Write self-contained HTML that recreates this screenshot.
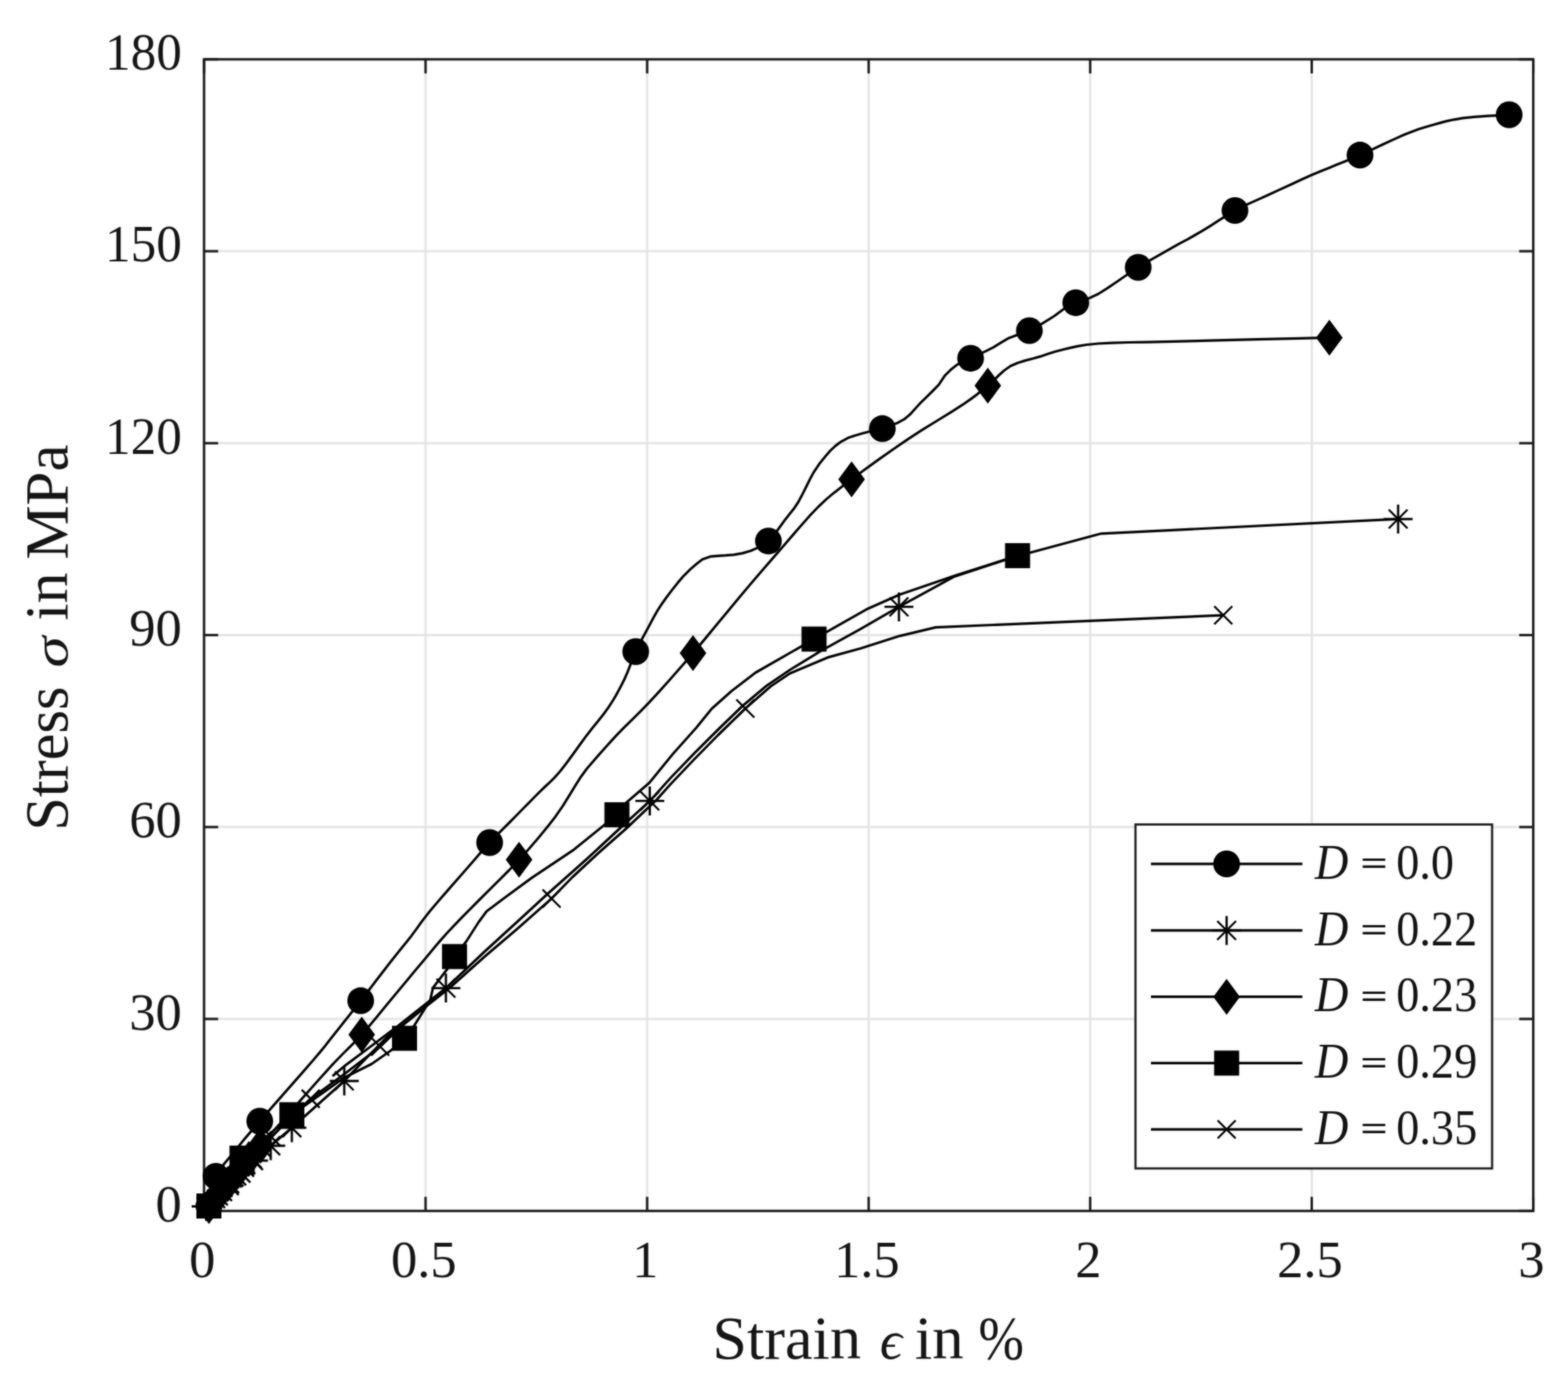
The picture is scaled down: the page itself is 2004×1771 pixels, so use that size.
<!DOCTYPE html>
<html lang="en">
<head>
<meta charset="utf-8">
<title>Stress-strain curves</title>
<style>
html,body{margin:0;padding:0;background:#fff;}
body{width:2004px;height:1771px;overflow:hidden;}
svg{display:block;}
</style>
</head>
<body>
<svg width="2004" height="1771" viewBox="0 0 2004 1771">
<defs><filter id="soft" color-interpolation-filters="sRGB" filterUnits="userSpaceOnUse" x="0" y="0" width="2004" height="1771"><feGaussianBlur in="SourceGraphic" stdDeviation="0.85" result="b"/><feComposite in="SourceGraphic" in2="b" operator="arithmetic" k1="0" k2="0.40" k3="0.60" k4="0"/></filter></defs>
<rect width="2004" height="1771" fill="#fff"/>
<g filter="url(#soft)">
<rect width="2004" height="1771" fill="#fff"/>
<g stroke="#e5e5e5" stroke-width="3.0" fill="none"><line x1="543.9" y1="75.8" x2="543.9" y2="1547.3"/><line x1="827.1" y1="75.8" x2="827.1" y2="1547.3"/><line x1="1110.2" y1="75.8" x2="1110.2" y2="1547.3"/><line x1="1393.3" y1="75.8" x2="1393.3" y2="1547.3"/><line x1="1676.5" y1="75.8" x2="1676.5" y2="1547.3"/><line x1="260.8" y1="1302.0" x2="1959.6" y2="1302.0"/><line x1="260.8" y1="1056.8" x2="1959.6" y2="1056.8"/><line x1="260.8" y1="811.5" x2="1959.6" y2="811.5"/><line x1="260.8" y1="566.3" x2="1959.6" y2="566.3"/><line x1="260.8" y1="321.0" x2="1959.6" y2="321.0"/></g>
<g stroke="#1a1a1a" stroke-width="3.10" fill="none"><line x1="260.8" y1="1547.3" x2="260.8" y2="1529.3"/><line x1="260.8" y1="75.8" x2="260.8" y2="93.8"/><line x1="260.8" y1="1547.3" x2="278.8" y2="1547.3"/><line x1="1959.6" y1="1547.3" x2="1941.6" y2="1547.3"/><line x1="543.9" y1="1547.3" x2="543.9" y2="1529.3"/><line x1="543.9" y1="75.8" x2="543.9" y2="93.8"/><line x1="260.8" y1="1302.0" x2="278.8" y2="1302.0"/><line x1="1959.6" y1="1302.0" x2="1941.6" y2="1302.0"/><line x1="827.1" y1="1547.3" x2="827.1" y2="1529.3"/><line x1="827.1" y1="75.8" x2="827.1" y2="93.8"/><line x1="260.8" y1="1056.8" x2="278.8" y2="1056.8"/><line x1="1959.6" y1="1056.8" x2="1941.6" y2="1056.8"/><line x1="1110.2" y1="1547.3" x2="1110.2" y2="1529.3"/><line x1="1110.2" y1="75.8" x2="1110.2" y2="93.8"/><line x1="260.8" y1="811.5" x2="278.8" y2="811.5"/><line x1="1959.6" y1="811.5" x2="1941.6" y2="811.5"/><line x1="1393.3" y1="1547.3" x2="1393.3" y2="1529.3"/><line x1="1393.3" y1="75.8" x2="1393.3" y2="93.8"/><line x1="260.8" y1="566.3" x2="278.8" y2="566.3"/><line x1="1959.6" y1="566.3" x2="1941.6" y2="566.3"/><line x1="1676.5" y1="1547.3" x2="1676.5" y2="1529.3"/><line x1="1676.5" y1="75.8" x2="1676.5" y2="93.8"/><line x1="260.8" y1="321.0" x2="278.8" y2="321.0"/><line x1="1959.6" y1="321.0" x2="1941.6" y2="321.0"/><line x1="1959.6" y1="1547.3" x2="1959.6" y2="1529.3"/><line x1="1959.6" y1="75.8" x2="1959.6" y2="93.8"/><line x1="260.8" y1="75.8" x2="278.8" y2="75.8"/><line x1="1959.6" y1="75.8" x2="1941.6" y2="75.8"/><rect x="260.8" y="75.8" width="1698.8" height="1471.5"/></g>
<g font-family="'Liberation Serif', 'DejaVu Serif', serif" fill="#141414"><text x="258.5" y="1632.0" font-size="68.6" text-anchor="middle" textLength="33.5" lengthAdjust="spacingAndGlyphs">0</text><text x="541.6" y="1632.0" font-size="68.6" text-anchor="middle" textLength="83.9" lengthAdjust="spacingAndGlyphs">0.5</text><text x="824.8" y="1632.0" font-size="68.6" text-anchor="middle" textLength="33.5" lengthAdjust="spacingAndGlyphs">1</text><text x="1107.9" y="1632.0" font-size="68.6" text-anchor="middle" textLength="83.9" lengthAdjust="spacingAndGlyphs">1.5</text><text x="1391.0" y="1632.0" font-size="68.6" text-anchor="middle" textLength="33.5" lengthAdjust="spacingAndGlyphs">2</text><text x="1674.2" y="1632.0" font-size="68.6" text-anchor="middle" textLength="83.9" lengthAdjust="spacingAndGlyphs">2.5</text><text x="1957.3" y="1632.0" font-size="68.6" text-anchor="middle" textLength="33.5" lengthAdjust="spacingAndGlyphs">3</text><text x="232.3" y="1560.7" font-size="68.6" text-anchor="end" textLength="33.5" lengthAdjust="spacingAndGlyphs">0</text><text x="232.3" y="1315.5" font-size="68.6" text-anchor="end" textLength="67.1" lengthAdjust="spacingAndGlyphs">30</text><text x="232.3" y="1070.2" font-size="68.6" text-anchor="end" textLength="67.1" lengthAdjust="spacingAndGlyphs">60</text><text x="232.3" y="824.9" font-size="68.6" text-anchor="end" textLength="67.1" lengthAdjust="spacingAndGlyphs">90</text><text x="232.3" y="579.7" font-size="68.6" text-anchor="end" textLength="98.0" lengthAdjust="spacingAndGlyphs">120</text><text x="232.3" y="334.4" font-size="68.6" text-anchor="end" textLength="98.0" lengthAdjust="spacingAndGlyphs">150</text><text x="232.3" y="89.2" font-size="68.6" text-anchor="end" textLength="98.0" lengthAdjust="spacingAndGlyphs">180</text></g>
<g font-family="'Liberation Serif', 'DejaVu Serif', serif" fill="#141414"><text y="1736.3" font-size="77.5"><tspan x="910.6" textLength="189.8" lengthAdjust="spacingAndGlyphs">Strain</tspan> <tspan x="1124.5" font-style="italic" font-size="69.0" textLength="28.4" lengthAdjust="spacingAndGlyphs">ϵ</tspan> <tspan x="1169.3" textLength="62.4" lengthAdjust="spacingAndGlyphs">in</tspan> <tspan x="1250.5" textLength="58.1" lengthAdjust="spacingAndGlyphs">%</tspan></text></g>
<g font-family="'Liberation Serif', 'DejaVu Serif', serif" fill="#141414" transform="translate(86.0 1061.5) rotate(-90)"><text y="0.0" font-size="77.5"><tspan x="0.0" textLength="184.2" lengthAdjust="spacingAndGlyphs">Stress</tspan> <tspan x="208.5" font-style="italic" font-size="63.0" textLength="39.8" lengthAdjust="spacingAndGlyphs">σ</tspan> <tspan x="268.6" textLength="61.5" lengthAdjust="spacingAndGlyphs">in</tspan> <tspan x="346.4" textLength="147.1" lengthAdjust="spacingAndGlyphs">MPa</tspan></text></g>
<g fill="none" stroke="#000" stroke-width="3.20" stroke-linejoin="round"><polyline points="267.0,1541.0 268.3,1534.0 270.0,1524.0 272.5,1513.0 276.0,1503.0 280.8,1494.7 286.6,1487.0 293.1,1479.3 300.0,1471.0 306.6,1462.8 313.2,1454.6 321.3,1445.1 332.0,1432.6 347.5,1414.9 366.4,1393.4 385.1,1372.1 400.0,1355.0 409.2,1344.1 415.1,1336.9 419.9,1330.8 426.0,1323.0 434.0,1312.9 442.7,1302.0 451.8,1290.5 461.0,1278.7 470.8,1266.0 481.1,1252.6 491.1,1239.5 500.0,1228.0 507.4,1218.7 513.8,1210.8 519.7,1203.5 525.7,1195.9 531.3,1188.4 536.3,1181.3 542.2,1173.4 550.0,1163.5 561.3,1150.2 574.9,1134.6 588.6,1119.0 600.0,1106.0 608.0,1096.8 613.9,1089.9 619.3,1083.7 625.8,1076.6 633.9,1068.2 642.7,1059.3 651.6,1050.5 660.0,1042.0 667.8,1034.0 675.4,1026.4 682.6,1019.0 689.7,1011.8 696.3,1005.5 702.4,999.8 708.7,993.6 715.7,985.8 723.7,975.5 732.5,963.5 741.3,951.2 749.6,939.9 757.3,930.1 764.7,921.0 771.6,912.2 778.0,903.4 783.7,894.5 788.9,885.6 793.6,876.8 798.0,868.0 801.9,859.1 805.4,850.2 808.8,841.3 812.5,832.6 816.7,823.9 821.2,815.3 825.7,806.9 830.0,799.0 834.9,789.8 839.7,781.2 845.8,771.7 852.0,763.0 859.3,753.4 866.8,743.9 873.8,735.8 882.6,727.1 890.9,720.0 897.7,714.8 907.7,711.2 916.5,710.4 927.5,709.7 937.6,708.8 949.1,706.9 959.6,703.8 970.9,698.9 982.1,691.3 989.5,683.1 996.8,673.2 1003.5,663.9 1009.2,656.8 1014.4,650.3 1020.0,642.0 1024.8,633.1 1030.0,622.7 1035.2,612.3 1039.9,603.6 1047.9,591.7 1055.0,583.0 1061.4,575.6 1067.9,569.6 1075.0,564.3 1083.8,559.6 1092.0,556.7 1101.4,554.0 1109.8,551.7 1118.6,550.0 1127.7,547.7 1136.6,544.6 1146.6,540.6 1155.7,535.7 1162.8,529.8 1169.0,523.0 1175.6,515.7 1183.9,507.6 1192.6,499.0 1199.6,491.8 1207.6,479.8 1215.0,472.6 1223.6,465.8 1231.2,461.8 1240.5,457.8 1249.6,453.5 1260.1,448.6 1269.5,443.9 1279.6,437.6 1289.4,431.9 1297.4,428.9 1306.2,426.2 1315.6,422.5 1323.7,418.2 1332.5,413.1 1341.0,407.9 1347.9,403.5 1362.0,393.0 1374.9,386.8 1382.5,384.2 1391.9,381.1 1403.8,375.5 1415.1,368.4 1428.2,359.5 1441.9,350.0 1454.7,341.6 1466.6,334.4 1478.1,327.8 1489.1,321.6 1499.6,315.7 1509.0,310.4 1517.7,305.8 1526.2,301.0 1535.5,295.7 1545.8,289.3 1556.6,282.3 1567.6,275.3 1578.4,269.0 1588.4,263.8 1598.0,259.4 1608.1,254.9 1619.4,249.8 1633.2,243.4 1648.8,236.2 1663.8,229.3 1676.0,223.8 1689.2,218.2 1700.0,213.9 1708.1,210.6 1717.1,207.0 1727.1,203.0 1738.2,198.2 1751.4,192.1 1766.4,185.0 1781.3,178.1 1794.3,172.3 1804.6,168.2 1813.2,165.1 1821.3,162.5 1830.0,160.0 1839.2,157.4 1848.4,154.9 1858.3,152.8 1869.7,150.9 1884.5,149.4 1901.7,148.2 1917.7,147.3 1928.8,146.6"/><polyline points="263.5,1541.5 279.0,1528.0 293.0,1515.0 308.0,1499.0 324.0,1483.0 346.0,1464.0 373.0,1441.0 440.0,1381.2 475.0,1345.0 509.8,1310.0 545.8,1281.5 569.9,1262.6 619.8,1215.5 659.8,1179.0 699.5,1142.5 749.8,1097.8 790.0,1060.5 830.5,1023.4 835.9,1017.5 857.5,993.5 887.5,962.3 918.0,932.0 949.0,902.0 980.0,876.0 1009.5,856.0 1049.4,831.6 1100.0,803.6 1148.9,775.4 1219.8,736.7 1283.6,715.8 1300.5,710.5 1407.4,681.8 1786.9,663.2"/><polyline points="267.0,1541.0 272.2,1534.9 279.0,1527.0 284.9,1520.1 291.0,1513.0 297.4,1505.1 304.0,1497.0 310.9,1489.1 318.0,1481.0 322.2,1476.2 333.0,1464.0 347.0,1448.1 365.6,1427.0 384.6,1405.4 400.0,1388.0 410.0,1376.7 417.2,1368.8 423.2,1362.2 430.0,1355.0 437.8,1347.0 445.7,1339.2 453.8,1331.1 462.3,1322.0 471.3,1311.7 480.7,1300.4 490.3,1288.7 500.0,1277.0 510.0,1265.0 520.4,1252.5 530.5,1240.3 540.0,1229.0 548.4,1219.0 556.0,1209.8 563.6,1200.9 572.0,1191.5 581.1,1181.8 590.7,1171.9 600.9,1161.6 611.9,1150.5 624.1,1138.4 637.2,1125.4 650.6,1112.0 663.4,1098.6 675.7,1085.0 687.8,1071.0 699.3,1057.1 709.7,1043.7 719.1,1030.2 727.5,1016.6 735.1,1004.1 741.6,993.8 749.8,982.5 758.0,973.0 764.6,965.4 772.3,956.7 780.7,947.4 789.5,937.9 798.6,928.7 808.1,919.4 818.4,909.2 829.8,897.4 842.5,883.6 856.3,868.3 870.8,851.8 885.7,834.6 901.4,815.9 918.0,795.8 934.4,775.9 949.6,757.7 963.1,741.8 975.6,727.2 987.6,713.4 999.5,699.8 1011.4,685.9 1023.2,672.2 1034.7,659.2 1045.9,647.5 1056.1,637.9 1065.6,629.9 1075.8,622.0 1088.4,612.5 1104.2,600.7 1122.3,587.6 1141.3,574.2 1159.7,561.6 1178.1,549.7 1197.0,538.0 1214.7,527.2 1229.5,517.7 1240.4,510.1 1248.6,504.1 1255.4,498.6 1262.5,492.8 1269.8,486.3 1276.6,479.5 1283.6,473.2 1291.4,467.8 1300.6,463.7 1310.6,460.6 1320.7,458.0 1329.9,455.4 1339.8,452.1 1348.7,449.2 1359.3,446.5 1368.2,444.4 1377.4,442.4 1388.7,440.5 1403.8,439.0 1421.7,438.1 1442.0,437.5 1467.2,437.1 1499.6,436.4 1546.8,435.2 1605.3,433.7 1660.7,432.4 1699.0,431.4"/><polyline points="267.0,1541.0 309.3,1479.8 373.0,1424.4 440.0,1377.0 475.0,1359.5 500.0,1342.0 517.0,1326.7 529.8,1309.9 549.8,1278.0 553.5,1262.0 572.0,1237.8 580.9,1222.3 595.9,1203.0 611.9,1178.0 621.9,1164.5 643.8,1148.0 679.7,1121.6 733.6,1085.6 788.5,1041.1 800.0,1026.0 829.9,1000.3 859.9,963.5 889.8,930.0 909.7,905.5 935.0,883.0 965.6,859.5 1040.4,816.6 1109.3,777.7 1149.9,759.7 1219.8,735.7 1300.5,710.0"/><polyline points="267.0,1541.0 276.0,1532.0 285.0,1523.0 294.0,1513.0 303.0,1503.0 313.0,1492.0 323.0,1481.0 335.0,1467.0 347.0,1453.0 370.0,1429.0 397.1,1404.0 440.0,1372.5 485.9,1337.3 509.8,1314.0 545.8,1285.0 575.0,1262.0 619.8,1222.0 659.8,1188.0 704.9,1148.1 731.9,1120.5 764.8,1090.0 800.0,1059.0 839.5,1021.6 857.5,1001.5 887.5,970.0 918.0,939.0 952.6,905.4 985.0,877.0 1009.5,860.5 1059.4,839.6 1100.0,828.5 1150.0,812.6 1195.8,801.6 1563.4,786.1"/><polyline points="425.0,1375.0 440.0,1362.4 470.0,1340.0 499.9,1317.5 512.0,1309.0"/></g>
<g fill="#000" stroke="none"><circle cx="267.0" cy="1541.0" r="17.1"/><circle cx="276.0" cy="1503.0" r="17.1"/><circle cx="332.0" cy="1432.6" r="17.1"/><circle cx="461.0" cy="1278.7" r="17.1"/><circle cx="625.8" cy="1076.6" r="17.1"/><circle cx="812.5" cy="832.6" r="17.1"/><circle cx="982.1" cy="691.3" r="17.1"/><circle cx="1127.7" cy="547.7" r="17.1"/><circle cx="1240.5" cy="457.8" r="17.1"/><circle cx="1315.6" cy="422.5" r="17.1"/><circle cx="1374.9" cy="386.8" r="17.1"/><circle cx="1454.7" cy="341.6" r="17.1"/><circle cx="1578.4" cy="269.0" r="17.1"/><circle cx="1738.2" cy="198.2" r="17.1"/><circle cx="1928.8" cy="146.6" r="17.1"/></g>
<g fill="none" stroke="#000" stroke-width="2.60"><path stroke-width="2.90" d="M245.0 1541.5L282.0 1541.5M263.5 1523.0L263.5 1560.0"/><path d="M251.5 1529.5L275.5 1553.5M251.5 1553.5L275.5 1529.5"/><path stroke-width="2.90" d="M260.5 1528.0L297.5 1528.0M279.0 1509.5L279.0 1546.5"/><path d="M267.0 1516.0L291.0 1540.0M267.0 1540.0L291.0 1516.0"/><path stroke-width="2.90" d="M274.5 1515.0L311.5 1515.0M293.0 1496.5L293.0 1533.5"/><path d="M281.0 1503.0L305.0 1527.0M281.0 1527.0L305.0 1503.0"/><path stroke-width="2.90" d="M289.5 1499.0L326.5 1499.0M308.0 1480.5L308.0 1517.5"/><path d="M296.0 1487.0L320.0 1511.0M296.0 1511.0L320.0 1487.0"/><path stroke-width="2.90" d="M305.5 1483.0L342.5 1483.0M324.0 1464.5L324.0 1501.5"/><path d="M312.0 1471.0L336.0 1495.0M312.0 1495.0L336.0 1471.0"/><path stroke-width="2.90" d="M327.5 1464.0L364.5 1464.0M346.0 1445.5L346.0 1482.5"/><path d="M334.0 1452.0L358.0 1476.0M334.0 1476.0L358.0 1452.0"/><path stroke-width="2.90" d="M354.5 1441.0L391.5 1441.0M373.0 1422.5L373.0 1459.5"/><path d="M361.0 1429.0L385.0 1453.0M361.0 1453.0L385.0 1429.0"/><path stroke-width="2.90" d="M421.5 1381.2L458.5 1381.2M440.0 1362.7L440.0 1399.7"/><path d="M428.0 1369.2L452.0 1393.2M428.0 1393.2L452.0 1369.2"/><path stroke-width="2.90" d="M551.4 1262.6L588.4 1262.6M569.9 1244.1L569.9 1281.1"/><path d="M557.9 1250.6L581.9 1274.6M557.9 1274.6L581.9 1250.6"/><path stroke-width="2.90" d="M812.0 1023.4L849.0 1023.4M830.5 1004.9L830.5 1041.9"/><path d="M818.5 1011.4L842.5 1035.4M818.5 1035.4L842.5 1011.4"/><path stroke-width="2.90" d="M1130.4 775.4L1167.4 775.4M1148.9 756.9L1148.9 793.9"/><path d="M1136.9 763.4L1160.9 787.4M1136.9 787.4L1160.9 763.4"/><path stroke-width="2.90" d="M1768.4 663.2L1805.4 663.2M1786.9 644.7L1786.9 681.7"/><path d="M1774.9 651.2L1798.9 675.2M1774.9 675.2L1798.9 651.2"/></g>
<g fill="#000" stroke="none"><polygon points="267.0,1518.0 284.0,1541.0 267.0,1564.0 250.0,1541.0"/><polygon points="279.0,1504.0 296.0,1527.0 279.0,1550.0 262.0,1527.0"/><polygon points="291.0,1490.0 308.0,1513.0 291.0,1536.0 274.0,1513.0"/><polygon points="304.0,1474.0 321.0,1497.0 304.0,1520.0 287.0,1497.0"/><polygon points="318.0,1458.0 335.0,1481.0 318.0,1504.0 301.0,1481.0"/><polygon points="333.0,1441.0 350.0,1464.0 333.0,1487.0 316.0,1464.0"/><polygon points="462.3,1299.0 479.3,1322.0 462.3,1345.0 445.3,1322.0"/><polygon points="663.4,1075.6 680.4,1098.6 663.4,1121.6 646.4,1098.6"/><polygon points="885.7,811.6 902.7,834.6 885.7,857.6 868.7,834.6"/><polygon points="1088.4,589.5 1105.4,612.5 1088.4,635.5 1071.4,612.5"/><polygon points="1262.5,469.8 1279.5,492.8 1262.5,515.8 1245.5,492.8"/><polygon points="1699.0,408.4 1716.0,431.4 1699.0,454.4 1682.0,431.4"/></g>
<g fill="#000" stroke="none"><rect x="251.0" y="1525.0" width="32.0" height="32.0"/><rect x="293.3" y="1463.8" width="32.0" height="32.0"/><rect x="357.0" y="1408.4" width="32.0" height="32.0"/><rect x="501.0" y="1310.7" width="32.0" height="32.0"/><rect x="564.9" y="1206.3" width="32.0" height="32.0"/><rect x="772.5" y="1025.1" width="32.0" height="32.0"/><rect x="1024.4" y="800.6" width="32.0" height="32.0"/><rect x="1284.5" y="694.0" width="32.0" height="32.0"/></g>
<g fill="none" stroke="#000" stroke-width="2.60"><path d="M255.5 1529.5L278.5 1552.5M255.5 1552.5L278.5 1529.5"/><path d="M264.5 1520.5L287.5 1543.5M264.5 1543.5L287.5 1520.5"/><path d="M273.5 1511.5L296.5 1534.5M273.5 1534.5L296.5 1511.5"/><path d="M282.5 1501.5L305.5 1524.5M282.5 1524.5L305.5 1501.5"/><path d="M291.5 1491.5L314.5 1514.5M291.5 1514.5L314.5 1491.5"/><path d="M301.5 1480.5L324.5 1503.5M301.5 1503.5L324.5 1480.5"/><path d="M311.5 1469.5L334.5 1492.5M311.5 1492.5L334.5 1469.5"/><path d="M323.5 1455.5L346.5 1478.5M323.5 1478.5L346.5 1455.5"/><path d="M335.5 1441.5L358.5 1464.5M335.5 1464.5L358.5 1441.5"/><path d="M358.5 1417.5L381.5 1440.5M358.5 1440.5L381.5 1417.5"/><path d="M385.6 1392.5L408.6 1415.5M385.6 1415.5L408.6 1392.5"/><path d="M474.4 1325.8L497.4 1348.8M474.4 1348.8L497.4 1325.8"/><path d="M693.4 1136.6L716.4 1159.6M693.4 1159.6L716.4 1136.6"/><path d="M941.1 893.9L964.1 916.9M941.1 916.9L964.1 893.9"/><path d="M1551.9 774.6L1574.9 797.6M1551.9 797.6L1574.9 774.6"/></g>
<rect x="1451.2" y="1053.5" width="455.8" height="439.5" fill="#fff" stroke="#1a1a1a" stroke-width="2.8"/>
<line x1="1471.0" y1="1103.9" x2="1664.5" y2="1103.9" stroke="#000" stroke-width="3.20"/>
<g fill="#000" stroke="none"><circle cx="1567.7" cy="1103.9" r="17.1"/></g>
<line x1="1471.0" y1="1188.9" x2="1664.5" y2="1188.9" stroke="#000" stroke-width="3.20"/>
<g fill="none" stroke="#000" stroke-width="2.60"><path stroke-width="2.90" d="M1549.2 1188.9L1586.2 1188.9M1567.7 1170.4L1567.7 1207.4"/><path d="M1555.7 1176.9L1579.7 1200.9M1555.7 1200.9L1579.7 1176.9"/></g>
<line x1="1471.0" y1="1273.7" x2="1664.5" y2="1273.7" stroke="#000" stroke-width="3.20"/>
<g fill="#000" stroke="none"><polygon points="1567.7,1250.7 1584.7,1273.7 1567.7,1296.7 1550.7,1273.7"/></g>
<line x1="1471.0" y1="1358.4" x2="1664.5" y2="1358.4" stroke="#000" stroke-width="3.20"/>
<g fill="#000" stroke="none"><rect x="1551.7" y="1342.4" width="32.0" height="32.0"/></g>
<line x1="1471.0" y1="1443.1" x2="1664.5" y2="1443.1" stroke="#000" stroke-width="3.20"/>
<g fill="none" stroke="#000" stroke-width="2.60"><path d="M1556.2 1431.6L1579.2 1454.6M1556.2 1454.6L1579.2 1431.6"/></g>
<g font-family="'Liberation Serif', 'DejaVu Serif', serif" fill="#111"><text y="1122.6" font-size="63.0"><tspan x="1680.5" font-style="italic" textLength="42.8" lengthAdjust="spacingAndGlyphs">D</tspan> <tspan x="1738.6" dy="-5.6" font-size="45.0" font-weight="bold" textLength="35.4" lengthAdjust="spacingAndGlyphs">=</tspan> <tspan x="1784.6" dy="5.6" textLength="73.8" lengthAdjust="spacingAndGlyphs">0.0</tspan></text><text y="1207.6" font-size="63.0"><tspan x="1680.5" font-style="italic" textLength="42.8" lengthAdjust="spacingAndGlyphs">D</tspan> <tspan x="1738.6" dy="-5.6" font-size="45.0" font-weight="bold" textLength="35.4" lengthAdjust="spacingAndGlyphs">=</tspan> <tspan x="1784.6" dy="5.6" textLength="103.3" lengthAdjust="spacingAndGlyphs">0.22</tspan></text><text y="1292.4" font-size="63.0"><tspan x="1680.5" font-style="italic" textLength="42.8" lengthAdjust="spacingAndGlyphs">D</tspan> <tspan x="1738.6" dy="-5.6" font-size="45.0" font-weight="bold" textLength="35.4" lengthAdjust="spacingAndGlyphs">=</tspan> <tspan x="1784.6" dy="5.6" textLength="103.3" lengthAdjust="spacingAndGlyphs">0.23</tspan></text><text y="1377.1" font-size="63.0"><tspan x="1680.5" font-style="italic" textLength="42.8" lengthAdjust="spacingAndGlyphs">D</tspan> <tspan x="1738.6" dy="-5.6" font-size="45.0" font-weight="bold" textLength="35.4" lengthAdjust="spacingAndGlyphs">=</tspan> <tspan x="1784.6" dy="5.6" textLength="103.3" lengthAdjust="spacingAndGlyphs">0.29</tspan></text><text y="1461.8" font-size="63.0"><tspan x="1680.5" font-style="italic" textLength="42.8" lengthAdjust="spacingAndGlyphs">D</tspan> <tspan x="1738.6" dy="-5.6" font-size="45.0" font-weight="bold" textLength="35.4" lengthAdjust="spacingAndGlyphs">=</tspan> <tspan x="1784.6" dy="5.6" textLength="103.3" lengthAdjust="spacingAndGlyphs">0.35</tspan></text></g>
</g>
</svg>
</body>
</html>
